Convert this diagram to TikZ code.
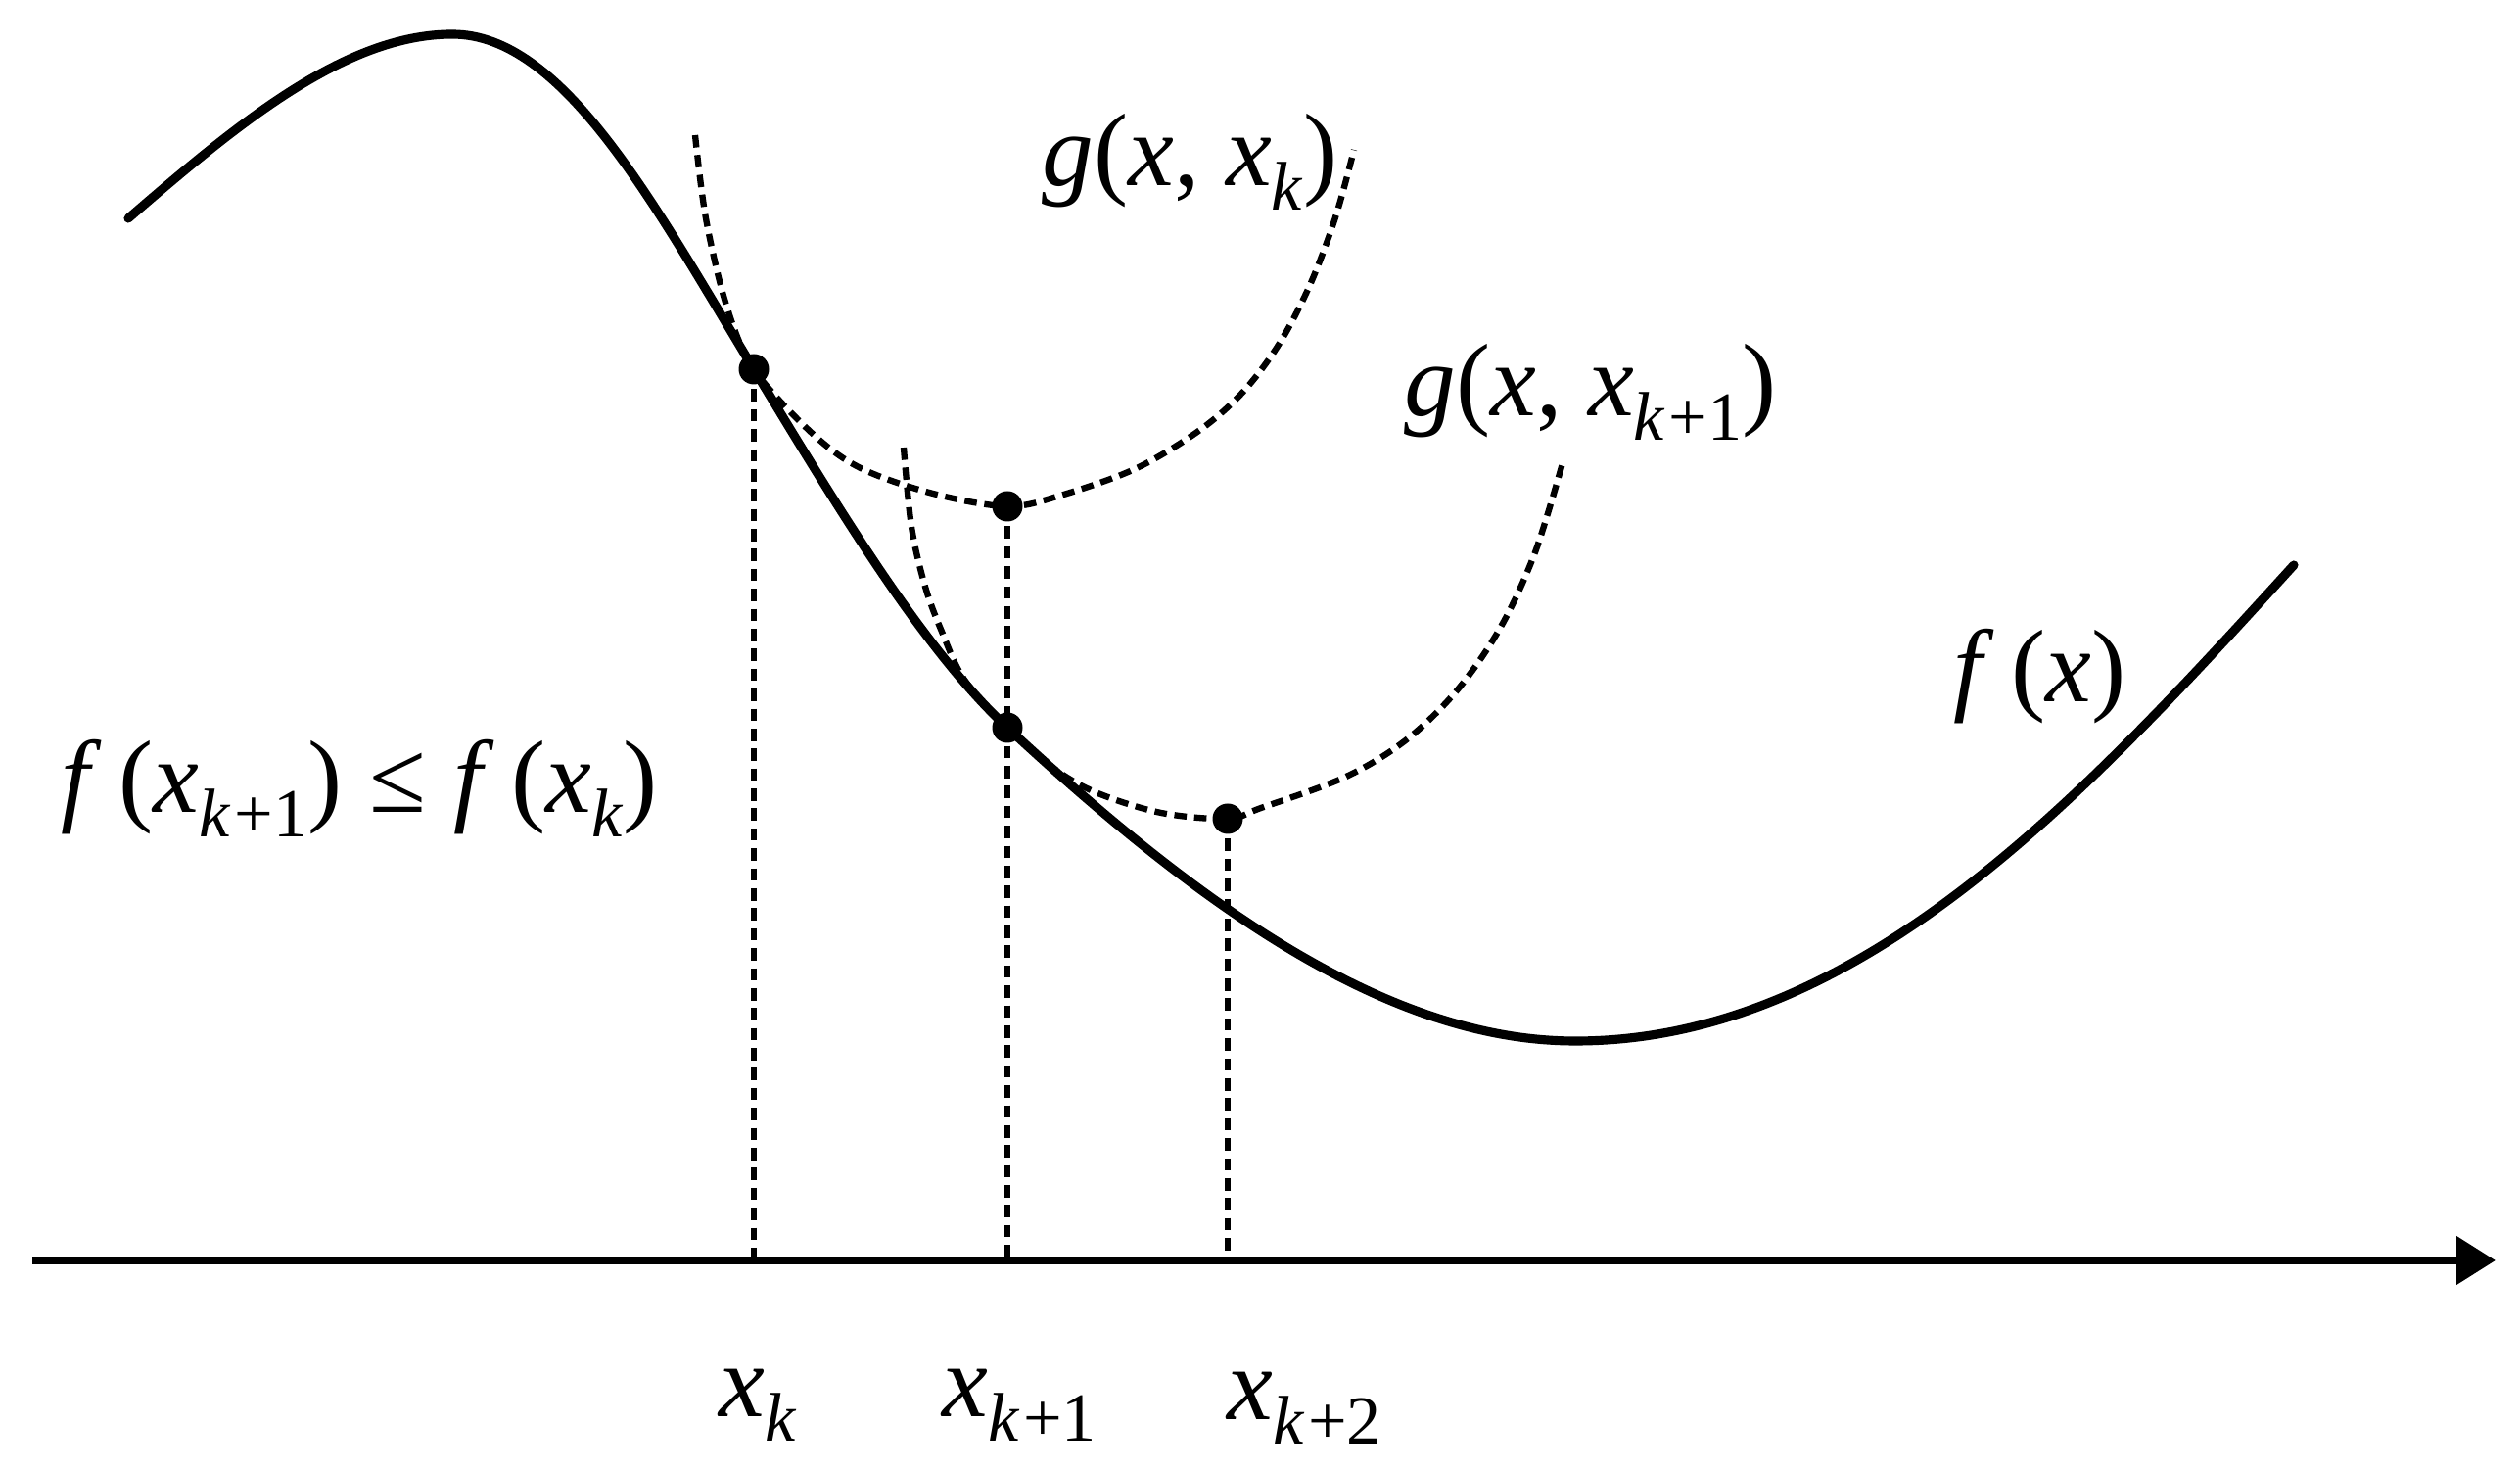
\documentclass[tikz,border=0pt]{standalone}
\usepackage{fontspec}
\setmainfont{Liberation Serif}
\usepackage{tikz}
\usetikzlibrary{arrows.meta}

% italic variable and lowered index, set as the figure does
\newcommand{\mv}[1]{\textit{#1}}
\newcommand{\lowix}[1]{\raisebox{-7pt}{\fontsize{20}{22}\selectfont #1}}

\begin{document}
\begin{tikzpicture}[>=Stealth,
    every node/.style={font=\fontsize{30}{32}\selectfont, inner sep=0pt},
    fcurve/.style={line width=2.6pt, line cap=round},
    gcurve/.style={line width=1.8pt, dash pattern=on 3.6pt off 2.2pt},
    guide/.style={line width=1.6pt, dash pattern=on 3.6pt off 2.2pt},
    axisline/.style={line width=2.2pt, -{Triangle[length=4mm,width=4.8mm]}}]

  \useasboundingbox (0,0) rectangle (25.74,15.01);

  % ========== AXIS ==========
  \coordinate (O) at (0.33,2.14);
  \coordinate (E) at (25.49,2.14);
  \draw[axisline] (O) -- (E);

  % Iterates
  \coordinate (Pk)  at (7.70,11.24);   % f(x_k) = g(x_k,x_k)
  \coordinate (Qk)  at (10.29,9.84);   % min of g(x,x_k)
  \coordinate (Pk1) at (10.29,7.58);   % f(x_{k+1})
  \coordinate (Qk1) at (12.54,6.65);   % min of g(x,x_{k+1})

  % ========== f(x) ==========
  \coordinate (fA) at (1.31,12.78);
  \coordinate (fB) at (4.62,14.66);    % local max
  \coordinate (fE) at (16.09,4.38);    % global min
  \coordinate (fF) at (23.43,9.24);
  \draw[fcurve] (fA) .. controls (2.41,13.73) and (3.52,14.66) .. (fB)
    .. controls (5.75,14.66) and (6.67,12.94) .. (Pk)
    .. controls (8.56,9.82) and (9.43,8.38) .. (Pk1)
    .. controls (12.22,5.79) and (14.16,4.38) .. (fE)
    .. controls (19.00,4.38) and (21.30,6.90) .. (fF);

  % ========== MAJORIZERS ==========
  % g(x,x_k)
  \draw[gcurve] plot[smooth, tension=0.55] coordinates {
    (7.10,13.63) (7.21,12.78) (7.42,11.89) (7.70,11.24) (8.29,10.59)
    (8.79,10.23) (9.53,9.97) (10.29,9.84) (10.83,9.95) (11.59,10.22)
    (12.23,10.60) (12.68,10.99) (13.06,11.49) (13.38,12.10) (13.64,12.79)
    (13.83,13.48)};
  % g(x,x_{k+1})
  \draw[gcurve] plot[smooth, tension=0.55] coordinates {
    (9.23,10.44) (9.31,9.63) (9.45,9.02) (9.62,8.56) (9.85,8.07)
    (10.29,7.58) (10.74,7.18) (11.19,6.92) (11.86,6.71) (12.54,6.65)
    (12.88,6.76) (13.75,7.08) (14.37,7.46) (14.89,7.97) (15.33,8.61)
    (15.68,9.37) (15.96,10.28)};

  % Projections onto the axis
  \foreach \p in {Pk,Qk,Qk1}{
    \draw[guide] (\p) -- (\p |- O);
  }

  % Points
  \foreach \p in {Pk,Qk,Pk1,Qk1}{
    \fill (\p) circle (0.155);
  }

  % Labels
  \node[anchor=base west] (gk)  at (10.64,13.11)
    {\mv{g}(\mv{x}, \mv{x}\lowix{\mv{k}})};
  \node[anchor=base west] (gk1) at (14.34,10.76)
    {\mv{g}(\mv{x}, \mv{x}\lowix{\mv{k}\kern1pt+1})};
  \node[anchor=base west] (fx)  at (19.95,7.84)
    {\mv{f}\,(\mv{x})};
  \node[anchor=base west] (ineq) at (0.62,6.71)
    {\mv{f}\,(\mv{x}\lowix{\mv{k}\kern1pt+1})\kern8pt≤\kern8pt\mv{f}\,(\mv{x}\lowix{\mv{k}})};

  \node[anchor=base west] (xk)  at (7.34,0.54)  {\mv{x}\lowix{\mv{k}}};
  \node[anchor=base west] (xk1) at (9.62,0.54)  {\mv{x}\lowix{\mv{k}\kern1pt+1}};
  \node[anchor=base west] (xk2) at (12.53,0.51) {\mv{x}\lowix{\mv{k}\kern1pt+2}};

\end{tikzpicture}
\end{document}
